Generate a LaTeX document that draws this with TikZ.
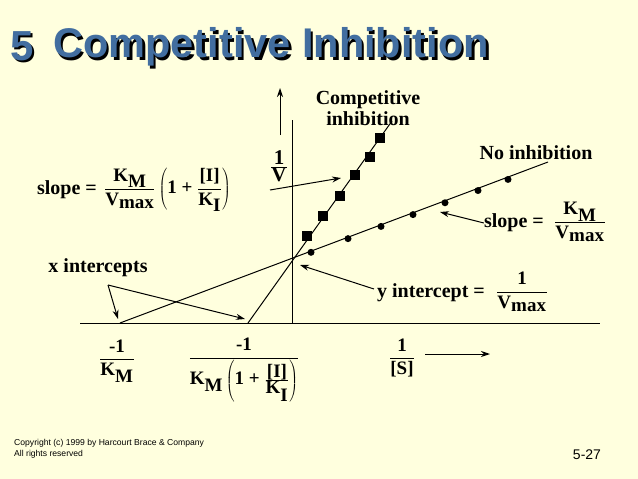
\documentclass[tikz,border=0pt]{standalone}
\usepackage{fontspec}
\setmainfont{Liberation Serif}
\setsansfont{Liberation Sans}
\usetikzlibrary{arrows.meta}
\definecolor{bg}{RGB}{255,255,222}
\definecolor{ttl}{RGB}{66,110,160}
\begin{document}
\begin{tikzpicture}[x=1pt,y=-1pt,
  lbl/.style={font=\bfseries\fontsize{20}{21}\selectfont,inner sep=0pt},
  frc/.style={font=\bfseries\fontsize{19}{21}\selectfont,inner sep=0pt},
  ln/.style={line width=1pt},
  arr/.style={line width=1pt,-{Stealth[length=9pt,width=6pt]}},
  sq/.style={fill=black,minimum size=10pt,inner sep=0pt},
  dot/.style={fill=black,circle,minimum size=7pt,inner sep=0pt}]
\fill[bg] (0,0) rectangle (638,479);
\useasboundingbox (0,0) rectangle (638,479);
% title
\node[font=\sffamily\bfseries\fontsize{42}{46}\selectfont,text=black,anchor=west,inner sep=0pt] (t5s) at (12.5,48.5) {5};
\node[font=\sffamily\bfseries\fontsize{42}{46}\selectfont,text=ttl,anchor=west,inner sep=0pt] (t5) at (10,46) {5};
\node[font=\sffamily\bfseries\fontsize{41.5}{44}\selectfont,text=black,anchor=west,inner sep=0pt] (ts) at (55.5,49.5) {Competitive Inhibition};
\node[font=\sffamily\bfseries\fontsize{41.5}{44}\selectfont,text=ttl,anchor=west,inner sep=0pt] (t) at (53,47) {Competitive Inhibition};
% axes
\coordinate (ya) at (292,120); \coordinate (yb) at (292,323);
\coordinate (xa) at (80,323); \coordinate (xb) at (600,323);
\draw[ln] (ya) -- (yb);
\draw[ln] (xa) -- (xb);
\coordinate (ua) at (280,135); \coordinate (ub) at (280,88);
\draw[arr] (ua) -- (ub);
% intercepts
\coordinate (xi1) at (120,323); \coordinate (xi2) at (248,323);
\coordinate (ne) at (548,162); \coordinate (ce) at (392,121);
\draw[ln] (xi1) -- (ne);
\draw[ln] (xi2) -- (ce);
\foreach \x/\y [count=\i] in {307/236,323/216,340/196,355/175,370/157,380/138} \node[sq] (s\i) at (\x,\y) {};
\foreach \x in {311,348,381,413,445,478,508} \node[dot] at (\x,{323-(\x-120)*0.37}) {};
% labels
\node[lbl,align=center] (ci) at (368,108) {Competitive\\inhibition};
\node[lbl] (ni) at (536,153) {No inhibition};
\node[font=\bfseries\fontsize{21}{23}\selectfont,inner sep=0pt] (v) at (279,166) {$\frac{\textbf{1}}{\textbf{V}}$};
\node[lbl] (xl) at (98,268) {x intercepts};
\coordinate (xc) at (108,285);
\draw[arr] (xc) -- (118,319);
\draw[arr] (xc) -- (245,319);
% left slope
\node[lbl,anchor=east] (sl) at (97,190) {slope =};
\node[frc,anchor=west] (slf) at (104,190) {$\displaystyle\frac{\textbf{K}_{\textbf{M}}}{\textbf{V}_{\textbf{max}}}\left(\textbf{1 + }\frac{\textbf{[I]}}{\textbf{K}_{\textbf{I}}}\right)$};
\coordinate (sla) at (270,190);
\draw[arr] (sla) -- (341,178);
% right slope
\node[lbl] (sr) at (514,223) {slope =};
\node[frc] (srf) at (580,222) {$\displaystyle\frac{\textbf{K}_{\textbf{M}}}{\textbf{V}_{\textbf{max}}}$};
\draw[arr] (sr.west) -- (440,212);
% y intercept
\node[lbl] (yi) at (431,293) {y intercept =};
\node[frc] (yif) at (522,292) {$\displaystyle\frac{\textbf{1}}{\textbf{V}_{\textbf{max}}}$};
\draw[arr] (yi.west) ++(-3,-4) coordinate (yic) -- (300,265);
% bottom
\node[frc] (b1) at (117,361) {$\displaystyle\frac{\textbf{-1}}{\textbf{K}_{\textbf{M}}}$};
\node[frc] (b2) at (244,370) {$\displaystyle\frac{\textbf{-1}}{\textbf{K}_{\textbf{M}}\left(\textbf{1 + }\frac{\textbf{[I]}}{\textbf{K}_{\textbf{I}}}\right)}$};
\node[frc] (b3) at (402,358) {$\displaystyle\frac{\textbf{1}}{\textbf{[S]}}$};
\coordinate (sa) at (425,354); \coordinate (sb) at (490,354);
\draw[arr] (sa) -- (sb);
% footer
\node[font=\sffamily\fontsize{8.6}{11.5}\selectfont,anchor=west,align=left,inner sep=0pt] (cp) at (14,449) {Copyright (c) 1999 by Harcourt Brace \& Company\\All rights reserved};
\node[font=\sffamily\fontsize{14}{16}\selectfont,inner sep=0pt] (pg) at (587,455) {5-27};
\end{tikzpicture}
\end{document}
